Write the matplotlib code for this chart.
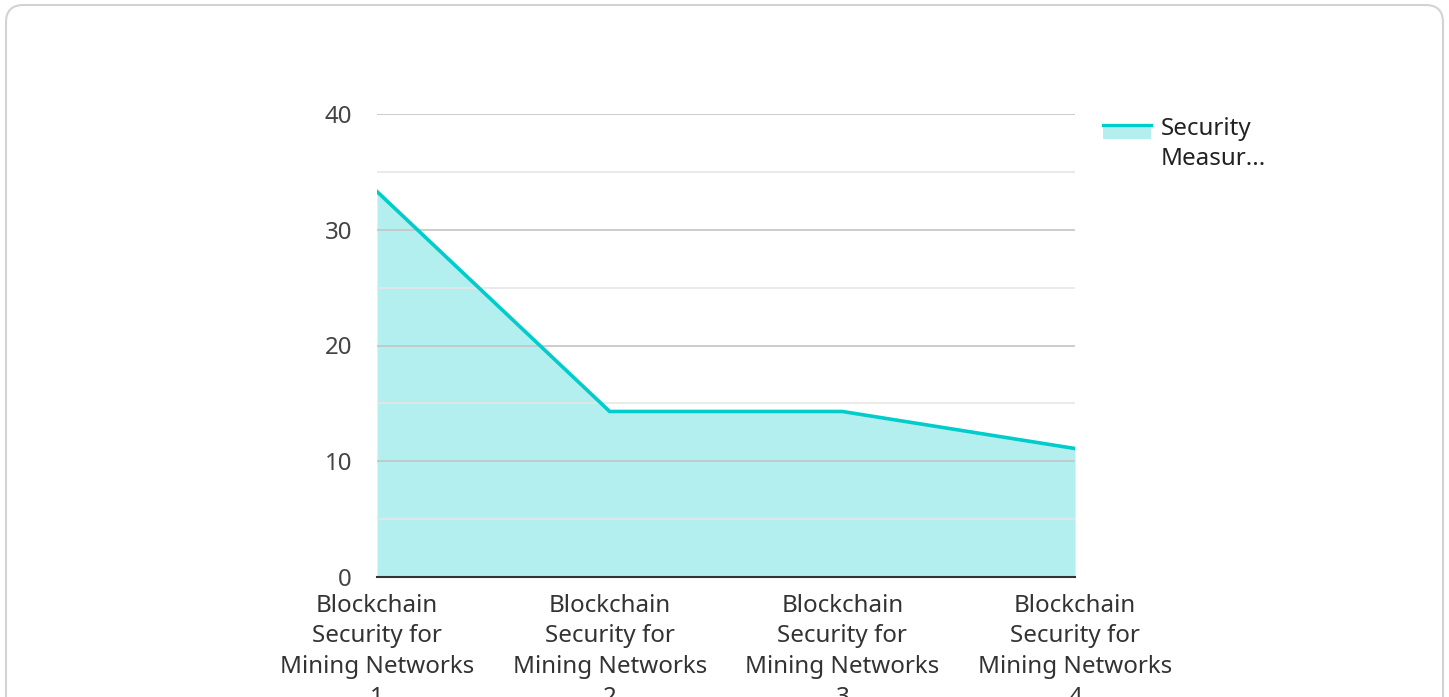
import matplotlib
matplotlib.use("Agg")
import matplotlib.pyplot as plt
from matplotlib.patches import FancyBboxPatch, Rectangle, Patch
from matplotlib.lines import Line2D
import numpy as np

plt.rcParams['font.family'] = ['Noto Sans', 'DejaVu Sans']

categories = ["Blockchain\nSecurity for\nMining Networks\n1",
              "Blockchain\nSecurity for\nMining Networks\n2",
              "Blockchain\nSecurity for\nMining Networks\n3",
              "Blockchain\nSecurity for\nMining Networks\n4"]
values = [33.3, 14.3, 14.3, 11.1]
series_name = "Security\nMeasur..."
yticks = [0, 10, 20, 30, 40]

LINE_C = "#00cccc"
FILL_C = "#b2efee"

W, H = 1449, 697
fig = plt.figure(figsize=(W / 100, H / 100), dpi=100)
fig.patch.set_facecolor("white")

border = FancyBboxPatch((6 / W, -20 / H), (1437 / W), (712 / H),
                        boxstyle="round,pad=0,rounding_size=0.012",
                        transform=fig.transFigure, facecolor="none",
                        edgecolor="#d3d3d3", linewidth=1.5, mutation_aspect=W / H,
                        zorder=-1)
fig.patches.append(border)

ax = fig.add_axes([377 / W, 1 - 577 / H, (1075 - 377) / W, (577 - 114) / H])
ax.set_facecolor("none")
x = np.arange(len(values))
ax.fill_between(x, values, 0, color=FILL_C, linewidth=0, zorder=1)
ax.plot(x, values, color=LINE_C, linewidth=2.6, zorder=3, solid_joinstyle="miter")

ax.set_xlim(0, len(values) - 1)
ax.set_ylim(0, 40)
ax.set_yticks(yticks)
ax.set_yticks([5, 15, 25, 35], minor=True)
ax.grid(axis="y", which="major", color="#c4c4c4", linewidth=1.2, zorder=2)
ax.grid(axis="y", which="minor", color="#e6e6e6", linewidth=1.2, zorder=2)
ax.set_axisbelow(False)
for s in ["top", "right", "left"]:
    ax.spines[s].set_visible(False)
ax.spines["bottom"].set_color("#333333")
ax.spines["bottom"].set_linewidth(1.5)
ax.spines["bottom"].set_zorder(4)
ax.tick_params(axis="y", which="both", length=0, pad=18, labelsize=17.3, labelcolor="#444444")
ax.tick_params(axis="x", length=0, pad=12, labelsize=17.4, labelcolor="#333333")
ax.set_xticks(x)
ax.set_xticklabels(categories, linespacing=1.37)


class AreaHandler:
    def legend_artist(self, legend, orig_handle, fontsize, handlebox):
        x0, y0 = handlebox.xdescent, handlebox.ydescent
        w = handlebox.width
        h = handlebox.height
        top = -y0 + h + 8
        rect = Rectangle((-x0, top - 10), w, 10, facecolor=FILL_C, edgecolor="none",
                         transform=handlebox.get_transform())
        ln = Line2D([-x0, -x0 + w], [top, top], color=LINE_C, linewidth=2.4,
                    transform=handlebox.get_transform())
        handlebox.add_artist(rect)
        handlebox.add_artist(ln)
        return rect


area_handle = Patch(facecolor=FILL_C)
leg = ax.legend([area_handle], [series_name],
                handler_map={Patch: AreaHandler()},
                loc="upper left", bbox_to_anchor=(1081 / W, 1 - 95 / H),
                bbox_transform=fig.transFigure, frameon=False, fontsize=17.4,
                handlelength=2.0, handletextpad=0.4, labelcolor="#222222")
for t in leg.get_texts():
    t.set_linespacing(1.37)

fig.savefig("out.png", dpi=100, facecolor="white")
